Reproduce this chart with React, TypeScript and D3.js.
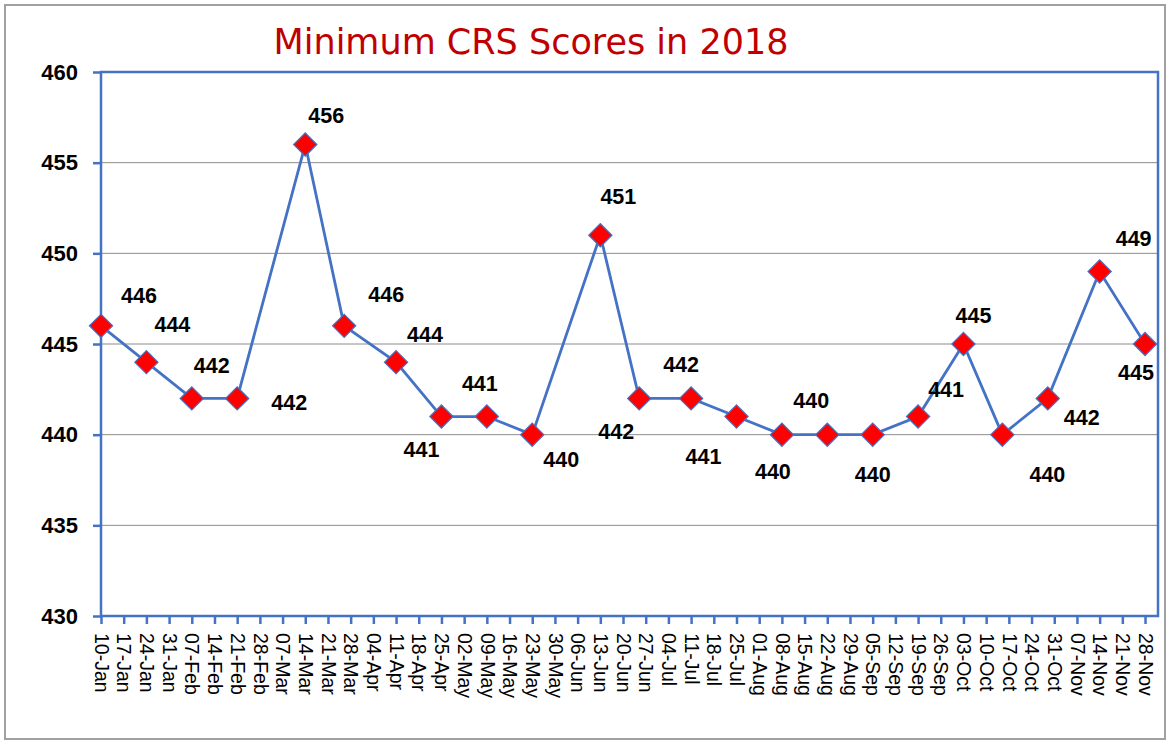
import React, { useEffect, useRef } from 'react';
import * as d3 from 'd3';

// Express Entry draws, 2018
const drawDates = [
  '2018-01-10', '2018-01-24', '2018-02-07', '2018-02-21', '2018-03-14', '2018-03-26',
  '2018-04-11', '2018-04-25', '2018-05-09', '2018-05-23', '2018-06-13', '2018-06-25',
  '2018-07-11', '2018-07-25', '2018-08-08', '2018-08-22', '2018-09-05', '2018-09-19',
  '2018-10-03', '2018-10-15', '2018-10-29', '2018-11-14', '2018-11-28',
];
const minScores = [
  446, 444, 442, 442, 456, 446, 444, 441, 441, 440, 451, 442,
  442, 441, 440, 440, 440, 441, 445, 440, 442, 449, 445,
];

const weekLabels = [
  '10-Jan', '17-Jan', '24-Jan', '31-Jan', '07-Feb', '14-Feb', '21-Feb', '28-Feb',
  '07-Mar', '14-Mar', '21-Mar', '28-Mar', '04-Apr', '11-Apr', '18-Apr', '25-Apr',
  '02-May', '09-May', '16-May', '23-May', '30-May', '06-Jun', '13-Jun', '20-Jun',
  '27-Jun', '04-Jul', '11-Jul', '18-Jul', '25-Jul', '01-Aug', '08-Aug', '15-Aug',
  '22-Aug', '29-Aug', '05-Sep', '12-Sep', '19-Sep', '26-Sep', '03-Oct', '10-Oct',
  '17-Oct', '24-Oct', '31-Oct', '07-Nov', '14-Nov', '21-Nov', '28-Nov',
];
const yTicks = [430, 435, 440, 445, 450, 455, 460];

// data labels were dragged around by hand in the original, so nudge each one
const labelNudges: [number, number][] = [
  [38, -30], [26, -38], [20, -33], [52, 4], [21, -29], [42, -31],
  [29, -28], [-20, 33], [-7, -33], [29, 25], [18, -39], [-23, 33],
  [-10, -34], [-33, 40], [-9, 37], [-16, -34], [0, 40], [28, -27],
  [10, -29], [45, 40], [34, 19], [34, -33], [-9, 28],
];

const W = 1170;
const H = 744;
const margin = { top: 72, right: 12, bottom: 128, left: 101 };

const App: React.FC = () => {
  const svgRef = useRef<SVGSVGElement>(null);

  useEffect(() => {
    const svg = d3.select(svgRef.current);
    svg.selectAll('*').remove();

    const parseIso = d3.utcParse('%Y-%m-%d');
    const parseTick = d3.utcParse('%d-%b-%Y');
    const points = drawDates.map((d, i) => ({ date: parseIso(d) as Date, value: minScores[i] }));
    const tickDates = weekLabels.map(l => parseTick(`${l}-2018`) as Date);

    const innerW = W - margin.left - margin.right;
    const innerH = H - margin.top - margin.bottom;

    const x = d3.scaleUtc()
      .domain([tickDates[0], d3.utcDay.offset(tickDates[tickDates.length - 1], 4)])
      .range([0, innerW]);
    const y = d3.scaleLinear().domain([430, 460]).range([innerH, 0]);

    const blue = '#4472c4';

    // outer chart frame
    svg.append('rect')
      .attr('x', 5).attr('y', 5)
      .attr('width', W - 10).attr('height', H - 10)
      .attr('fill', 'white')
      .attr('stroke', '#a0a0a0')
      .attr('stroke-width', 2);

    svg.append('text')
      .attr('x', 531)
      .attr('y', 54)
      .attr('text-anchor', 'middle')
      .style('font-family', '"DejaVu Sans", Verdana, sans-serif')
      .style('font-size', '35px')
      .style('fill', '#c00000')
      .text('Minimum CRS Scores in 2018');

    const g = svg.append('g').attr('transform', `translate(${margin.left},${margin.top})`);

    // gridlines
    g.selectAll('.grid')
      .data(yTicks.filter(t => t > 430 && t < 460))
      .enter()
      .append('line')
      .attr('x1', 0).attr('x2', innerW)
      .attr('y1', d => y(d)).attr('y2', d => y(d))
      .attr('stroke', '#8c8c8c')
      .attr('stroke-width', 1);

    // plot area border
    g.append('rect')
      .attr('width', innerW).attr('height', innerH)
      .attr('fill', 'none')
      .attr('stroke', blue)
      .attr('stroke-width', 2.5);

    // y axis
    const yAxis = g.append('g')
      .call(d3.axisLeft(y).tickValues(yTicks).tickSize(8).tickPadding(15).tickFormat(d3.format('d')));
    yAxis.select('.domain').remove();
    yAxis.selectAll('line').attr('stroke', blue).attr('stroke-width', 2.5);
    yAxis.selectAll('text')
      .style('font-family', '"Liberation Sans", Arial, sans-serif')
      .style('font-size', '22px')
      .style('font-weight', 'bold')
      .style('fill', '#000');

    // x axis
    const xAxis = g.append('g')
      .attr('transform', `translate(0,${innerH})`)
      .call(d3.axisBottom(x).tickValues(tickDates).tickSize(8).tickFormat((_, i) => weekLabels[i]));
    xAxis.select('.domain').remove();
    xAxis.selectAll('line').attr('stroke', blue).attr('stroke-width', 2.5);
    xAxis.selectAll('text')
      .attr('transform', 'rotate(90)')
      .attr('x', 17)
      .attr('y', 0)
      .attr('dy', '0.35em')
      .style('text-anchor', 'start')
      .style('font-family', '"Liberation Sans", Arial, sans-serif')
      .style('font-size', '19.5px')
      .style('fill', '#000');

    // series line
    const line = d3.line<{ date: Date; value: number }>()
      .x(d => x(d.date))
      .y(d => y(d.value));

    g.append('path')
      .datum(points)
      .attr('d', line)
      .attr('fill', 'none')
      .attr('stroke', blue)
      .attr('stroke-width', 2.8);

    // diamond markers
    const diamond = d3.symbol().type(d3.symbolSquare).size(270);
    g.selectAll('.marker')
      .data(points)
      .enter()
      .append('path')
      .attr('class', 'marker')
      .attr('d', diamond)
      .attr('transform', d => `translate(${x(d.date)},${y(d.value)}) rotate(45)`)
      .attr('fill', '#ff0000')
      .attr('stroke', blue)
      .attr('stroke-width', 1.2);

    // data labels
    g.selectAll('.data-label')
      .data(points)
      .enter()
      .append('text')
      .attr('class', 'data-label')
      .attr('x', (d, i) => x(d.date) + labelNudges[i][0])
      .attr('y', (d, i) => y(d.value) + labelNudges[i][1])
      .attr('dy', '0.35em')
      .attr('text-anchor', 'middle')
      .style('font-family', '"Liberation Sans", Arial, sans-serif')
      .style('font-size', '21.5px')
      .style('font-weight', 'bold')
      .style('fill', '#000')
      .text(d => d.value);
  }, []);

  return (
    <div style={{ position: 'absolute', left: 0, top: 0 }}>
      <svg ref={svgRef} width={W} height={H} style={{ display: 'block' }} />
    </div>
  );
};

export default App;
